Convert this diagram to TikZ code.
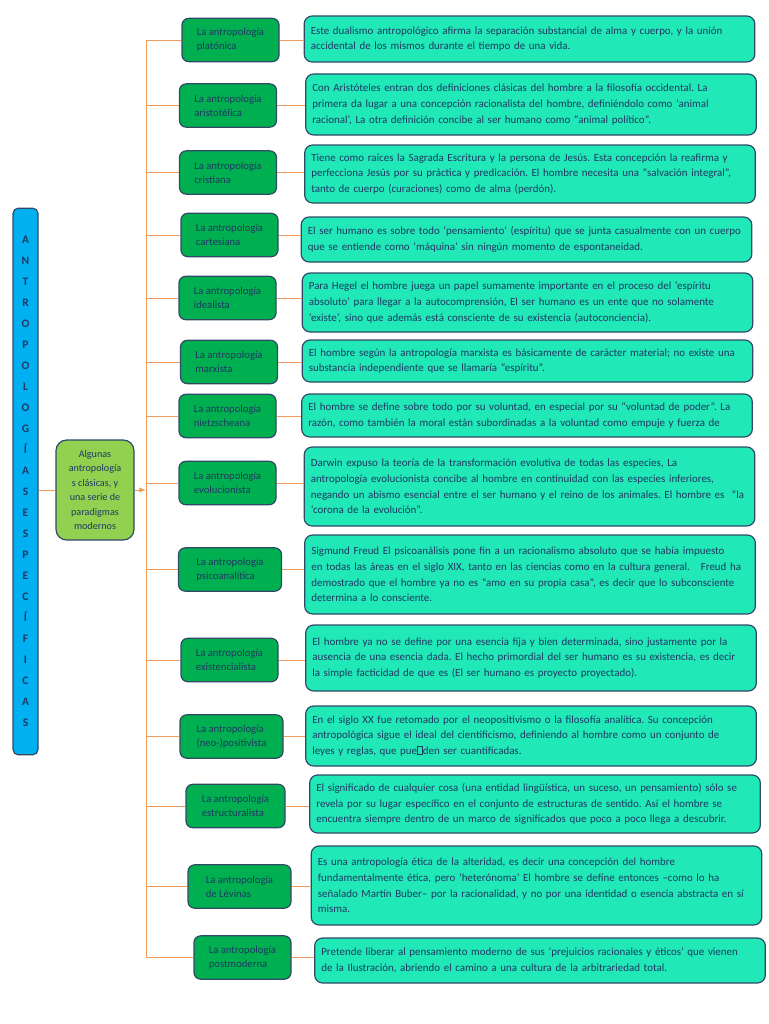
\documentclass[tikz,border=0pt]{standalone}
\usepackage{fontspec}
\setmainfont{Carlito}
\usetikzlibrary{arrows.meta}
\frenchspacing

\definecolor{barblue}{HTML}{00B0F0}
\definecolor{hubgreen}{HTML}{92D050}
\definecolor{kindgreen}{HTML}{00B050}
\definecolor{noteteal}{HTML}{20E8B7}
\definecolor{edgeline}{HTML}{2F4A66}
\definecolor{inkblue}{HTML}{1F3864}
\definecolor{linkorange}{HTML}{F29B5E}

\newcommand{\missglyph}{{\setlength{\fboxsep}{0pt}\setlength{\fboxrule}{0.4pt}\fbox{\rule{0pt}{6pt}\hspace{3.5pt}}}}

\begin{document}
\begin{tikzpicture}[x=0.75pt, y=-0.75pt,
    bar/.style={draw=edgeline, line width=0.9pt, fill=barblue, rounded corners=4pt,
      minimum width=18.75pt, minimum height=410pt, inner sep=0pt, align=center,
      text=inkblue, font=\fontsize{8.6}{15.75}\selectfont\bfseries},
    hub/.style={draw=edgeline, line width=0.9pt, fill=hubgreen, rounded corners=8pt,
      minimum width=58.5pt, minimum height=75pt, inner sep=2pt, align=center,
      text=inkblue, font=\fontsize{7.6}{10.8}\selectfont},
    kind/.style={draw=edgeline, line width=0.9pt, fill=kindgreen, rounded corners=5pt,
      minimum width=72.75pt, minimum height=32.5pt, align=left,
      text=inkblue, font=\fontsize{8}{10.6}\selectfont},
    note/.style={draw=edgeline, line width=0.9pt, fill=noteteal, rounded corners=6pt,
      text width=328pt, inner xsep=5pt, align=left,
      text=inkblue, font=\fontsize{8.2}{11.7}\selectfont},
    link/.style={draw=linkorange, line width=0.7pt}]

    % Page frame
    \useasboundingbox[fill=white] (0,0) rectangle (768,1024);

    % Title bar and the hub
    \node[bar] (title) at (25.5,481.5) {A\\N\\T\\R\\O\\P\\O\\L\\O\\G\\Í\\A\\S\\E\\S\\P\\E\\C\\Í\\F\\I\\C\\A\\S};
    \node[hub] (hub) at (95,490) {Algunas\\antropología\\s clásicas, y\\una serie de\\paradigmas\\modernos};

    % Kinds of anthropology
    \node[kind] (k1) at (230.5,40) {La antropología\\platónica};
    \node[kind] (k2) at (228,105.5) {La antropología\\aristotélica};
    \node[kind] (k3) at (228,172.5) {La antropología\\cristiana};
    \node[kind] (k4) at (229.5,235) {La antropología\\cartesiana};
    \node[kind] (k5) at (227.5,298) {La antropología\\idealista};
    \node[kind] (k6) at (229,362) {La antropología\\marxista};
    \node[kind] (k7) at (227.5,416) {La antropología\\nietzscheana};
    \node[kind] (k8) at (227.5,483) {La antropología\\evolucionista};
    \node[kind, minimum width=77.25pt] (k9) at (230,569.5) {La antropología\\psicoanalítica};
    \node[kind] (k10) at (229.5,660) {La antropología\\existencialista};
    \node[kind, minimum width=77.25pt] (k11) at (231.5,736.5) {La antropología\\(neo-)positivista};
    \node[kind, minimum width=74.25pt] (k12) at (235.5,806) {La antropología\\estructuralista};
    \node[kind, minimum width=77.25pt] (k13) at (239.5,886.5) {La antropología\\de Lévinas};
    \node[kind] (k14) at (242.5,957.5) {La antropología\\postmoderna};

    % Notes
    \node[note, minimum height=34.5pt] (n1) at (529.5,39) {Este dualismo antropológico afirma la separación substancial de alma y cuerpo, y la unión\\accidental de los mismos durante el tiempo de una vida.};
    \node[note, minimum height=45.75pt] (n2) at (531,104.5) {Con Aristóteles entran dos definiciones clásicas del hombre a la filosofía occidental. La\\primera da lugar a una concepción racionalista del hombre, definiéndolo como ‘animal\\racional’, La otra definición concibe al ser humano como “animal político”.};
    \node[note, minimum height=43.5pt] (n3) at (530,174) {Tiene como raíces la Sagrada Escritura y la persona de Jesús. Esta concepción la reafirma y\\perfecciona Jesús por su práctica y predicación. El hombre necesita una “salvación integral”,\\tanto de cuerpo (curaciones) como de alma (perdón).};
    \node[note, minimum height=33.75pt] (n4) at (526.5,239.5) {El ser humano es sobre todo ‘pensamiento’ (espíritu) que se junta casualmente con un cuerpo\\que se entiende como ‘máquina’ sin ningún momento de espontaneidad.};
    \node[note, minimum height=44.25pt] (n5) at (527.5,302.5) {Para Hegel el hombre juega un papel sumamente importante en el proceso del ‘espíritu\\absoluto’ para llegar a la autocomprensión, El ser humano es un ente que no solamente\\‘existe’, sino que además está consciente de su existencia (autoconciencia).};
    \node[note, minimum height=31.5pt] (n6) at (527.5,361) {El hombre según la antropología marxista es básicamente de carácter material; no existe una\\substancia independiente que se llamaría “espíritu”.};
    \node[note, minimum height=32.25pt] (n7) at (527,415.5) {El hombre se define sobre todo por su voluntad, en especial por su “voluntad de poder”. La\\razón, como también la moral están subordinadas a la voluntad como empuje y fuerza de};
    \node[note, minimum height=59.25pt] (n8) at (529.5,486.5) {Darwin expuso la teoría de la transformación evolutiva de todas las especies, La\\antropología evolucionista concibe al hombre en continuidad con las especies inferiores,\\negando un abismo esencial entre el ser humano y el reino de los animales. El hombre es \ “la\\‘corona de la evolución”.};
    \node[note, minimum height=59.25pt] (n9) at (530,574.5) {Sigmund Freud El psicoanálisis pone fin a un racionalismo absoluto que se había impuesto\\en todas las áreas en el siglo XIX, tanto en las ciencias como en la cultura general. \ \ Freud ha\\demostrado que el hombre ya no es “amo en su propia casa”, es decir que lo subconsciente\\determina a lo consciente.};
    \node[note, minimum height=49.5pt] (n10) at (531,658) {El hombre ya no se define por una esencia fija y bien determinada, sino justamente por la\\ausencia de una esencia dada. El hecho primordial del ser humano es su existencia, es decir\\la simple facticidad de que es (El ser humano es proyecto proyectado).};
    \node[note, minimum height=45pt] (n11) at (531,736) {En el siglo XX fue retomado por el neopositivismo o la filosofía analítica. Su concepción\\antropológica sigue el ideal del cientificismo, definiendo al hombre como un conjunto de\\leyes y reglas, que pue\missglyph den ser cuantificadas.};
    \node[note, minimum height=43.5pt] (n12) at (535,804) {El significado de cualquier cosa (una entidad lingüística, un suceso, un pensamiento) sólo se\\revela por su lugar específico en el conjunto de estructuras de sentido. Así el hombre se\\encuentra siempre dentro de un marco de significados que poco a poco llega a descubrir.};
    \node[note, minimum height=59.25pt] (n13) at (536.5,885.5) {Es una antropología ética de la alteridad, es decir una concepción del hombre\\fundamentalmente ética, pero ‘heterónoma’ El hombre se define entonces –como lo ha\\señalado Martín Buber– por la racionalidad, y no por una identidad o esencia abstracta en sí\\misma.};
    \node[note, minimum height=33.75pt] (n14) at (540,960.5) {Pretende liberar al pensamiento moderno de sus ‘prejuicios racionales y éticos’ que vienen\\de la Ilustración, abriendo el camino a una cultura de la arbitrariedad total.};

    % Trunk and hub links
    \coordinate (trunk) at (146,0);
    \draw[link] (trunk |- k1.west) -- (trunk |- k14.west);
    \draw[link] (hub.west -| title.east) -- (hub.west);
    \draw[link, -{Latex[length=5pt,width=4pt]}] (hub.east) -- (trunk |- hub.east);

    % Branches
    \draw[link] (trunk |- k1.west) -- (k1.west) (k1.east) -- (k1.east -| n1.west);
    \draw[link] (trunk |- k2.west) -- (k2.west) (k2.east) -- (k2.east -| n2.west);
    \draw[link] (trunk |- k3.west) -- (k3.west) (k3.east) -- (k3.east -| n3.west);
    \draw[link] (trunk |- k4.west) -- (k4.west) (k4.east) -- (k4.east -| n4.west);
    \draw[link] (trunk |- k5.west) -- (k5.west) (k5.east) -- (k5.east -| n5.west);
    \draw[link] (trunk |- k6.west) -- (k6.west) (k6.east) -- (k6.east -| n6.west);
    \draw[link] (trunk |- k7.west) -- (k7.west) (k7.east) -- (k7.east -| n7.west);
    \draw[link] (trunk |- k8.west) -- (k8.west) (k8.east) -- (k8.east -| n8.west);
    \draw[link] (trunk |- k9.west) -- (k9.west) (k9.east) -- (k9.east -| n9.west);
    \draw[link] (trunk |- k10.west) -- (k10.west) (k10.east) -- (k10.east -| n10.west);
    \draw[link] (trunk |- k11.west) -- (k11.west) (k11.east) -- (k11.east -| n11.west);
    \draw[link] (trunk |- k12.west) -- (k12.west) (k12.east) -- (k12.east -| n12.west);
    \draw[link] (trunk |- k13.west) -- (k13.west) (k13.east) -- (k13.east -| n13.west);
    \draw[link] (trunk |- k14.west) -- (k14.west) (k14.east) -- (k14.east -| n14.west);

\end{tikzpicture}
\end{document}
